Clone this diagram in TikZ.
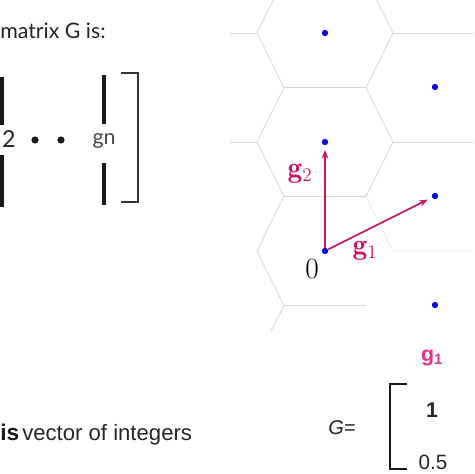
\documentclass[tikz,border=0pt]{standalone}
\usepackage{fontspec}
\newfontfamily\latofont{Lato}
\newfontfamily\arialfont{Liberation Sans}
\usetikzlibrary{arrows.meta}
\definecolor{vecred}{RGB}{205,20,100}
\definecolor{gpink}{RGB}{232,45,140}
\definecolor{dotblue}{RGB}{10,10,225}
\definecolor{cellgray}{RGB}{215,215,215}
\definecolor{inkgray}{RGB}{70,70,70}
\begin{document}
\begin{tikzpicture}[x=0.75pt,y=-0.75pt,
        latpt/.style={circle,fill=dotblue,inner sep=0pt,minimum size=4.8pt},
        cell/.style={draw=cellgray,line width=0.6pt},
        vec/.style={draw=vecred,line width=1.2pt,-{Stealth[length=6.5pt,width=5pt]},shorten >=3.4pt},
        txt/.style={inner sep=0pt,text=black!85}]
        \useasboundingbox (0,0) rectangle (474,474);
        \begin{scope}
            \clip (230,0) rectangle (474,330);
            \foreach \cy in {33,142} {
                \draw [cell] (284,\cy-54.5) -- (366,\cy-54.5) -- (393,\cy) -- (366,\cy+54.5) -- (284,\cy+54.5) -- (257,\cy) -- cycle ;
                \draw [cell] (230,\cy) -- (257,\cy) (393,\cy) -- (474,\cy) ;
            }
            \draw [cell] (366,196.5) -- (284,196.5) -- (257,251) -- (284,305.5) -- (366,305.5) ;
            \draw [cell] (284,305.5) -- (270,333) ;
            \draw [cell,draw=cellgray!55] (366,196.5) -- (393,251) -- (474,251) ;
        \end{scope}
        \node [latpt] (o) at (325,251) {};
        \node [latpt] (p1) at (435,196) {};
        \node [latpt] (p2) at (325,142) {};
        \node [latpt] (p12) at (435,87) {};
        \node [latpt] (p22) at (325,33) {};
        \node [latpt] (p1m) at (435,305) {};
        \draw [vec] (o) -- (p2) ;
        \draw [vec] (o) -- (p1) ;
        \node [text=vecred,inner sep=0pt] (g2lbl) at (300,174) {\fontsize{22}{26}\selectfont$\mathbf{g}_2$};
        \node [text=vecred,inner sep=0pt] (g1lbl) at (365,251) {\fontsize{22}{26}\selectfont$\mathbf{g}_1$};
        \node [inner sep=0pt] (zero) at (312,269) {\fontsize{22}{26}\selectfont 0};
        \node [txt,anchor=base west] (title) at (0,39) {\latofont\fontsize{16}{19}\selectfont matrix G is:};
        \draw [line width=3pt,black!90] (2,77) -- (2,125) (2,155) -- (2,207) ;
        \node [txt] (gtwo) at (9,139) {\latofont\fontsize{17.5}{20}\selectfont 2};
        \fill [black!90] (35,140) circle [radius=3.6] (61,140) circle [radius=3.6] ;
        \node [txt,text=inkgray,anchor=base] (gn) at (104,145) {\latofont\fontsize{16}{19}\selectfont gn};
        \draw [line width=2.4pt,black!90] (104,75) -- (104,124) (104,163) -- (104,205) ;
        \draw [line width=1.5pt,black!80] (121,73) -- (138,73) -- (138,202) -- (121,202) ;
        \node [txt,text=black!90,anchor=base west] (isword) at (0,440) {\arialfont\bfseries\fontsize{17}{20}\selectfont is};
        \node [txt,anchor=base west] (vecword) at (22,440) {\arialfont\fontsize{16.6}{19}\selectfont vector of integers};
        \node [txt,text=gpink] (g1col) at (432,358) {\arialfont\bfseries\fontsize{16}{18}\selectfont g\textsubscript{1}};
        \node [txt] (geq) at (342,428) {\arialfont\itshape\fontsize{15}{17}\selectfont G=};
        \draw [line width=1.5pt,black!90] (407,384) -- (390,384) -- (390,469) -- (407,469) ;
        \node [txt] (one) at (432,410) {\arialfont\bfseries\fontsize{16}{18}\selectfont 1};
        \node [txt] (half) at (433,462) {\arialfont\fontsize{15.5}{18}\selectfont 0.5};
\end{tikzpicture}
\end{document}
